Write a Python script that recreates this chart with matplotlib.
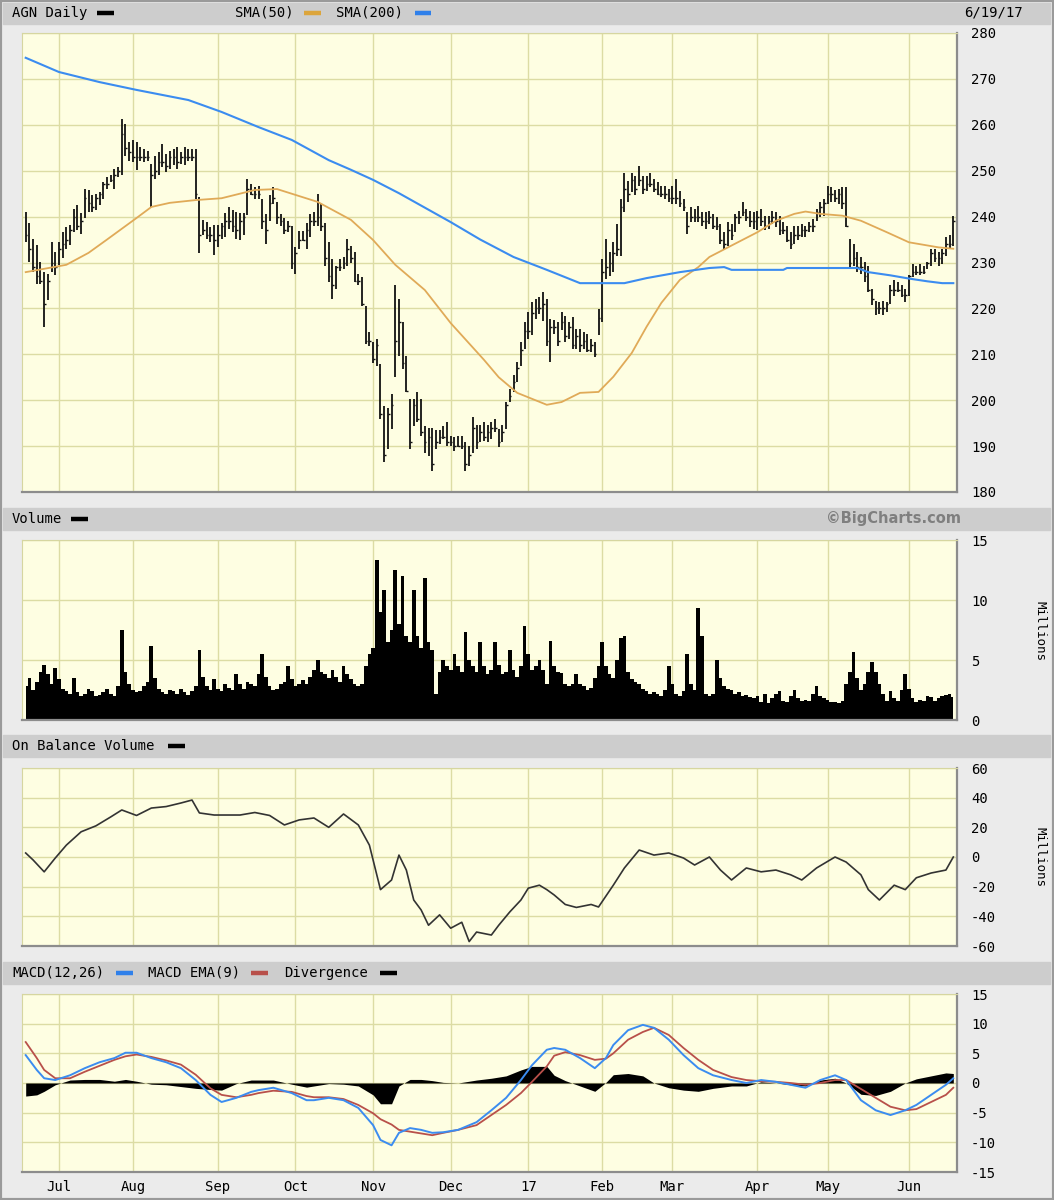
import numpy as np
import pandas as pd
import matplotlib
matplotlib.use('Agg')
import matplotlib.pyplot as plt
from matplotlib.lines import Line2D
from matplotlib.patches import Rectangle

# daily bars, one per trading day 6/20/16 .. 6/19/17
highs = [
    241.0, 238.5, 235.2, 233.8, 230.1, 228.0, 227.6, 234.5, 232.3, 234.5,
    236.7, 237.8, 238.1, 241.7, 242.5, 240.7, 246.1, 245.7, 244.6, 245.0,
    245.4, 247.5, 248.6, 249.0, 250.4, 250.8, 261.3, 260.2, 256.2, 256.6,
    256.2, 255.1, 254.8, 254.4, 251.5, 253.3, 254.1, 255.9, 253.7, 254.4,
    254.8, 255.1, 254.1, 255.1, 254.8, 254.8, 254.8, 244.3, 239.2, 238.8,
    237.8, 238.1, 238.1, 238.5, 240.7, 242.1, 241.4, 241.0, 240.7, 240.7,
    248.3, 247.2, 246.5,
    246.7, 243.8, 240.6, 244.6, 246.4, 243.1, 240.6, 239.8, 239.1, 238.0,
    233.3, 236.9, 236.9, 238.7, 240.6, 240.9, 244.9, 242.7, 238.7, 234.4,
    230.8, 229.3, 230.8, 231.1, 235.1, 233.7, 232.2, 227.5, 226.8, 220.6,
    214.8, 212.6, 213.3, 207.9, 198.8, 198.4, 201.3, 225.0, 222.0, 217.0,
    209.7, 200.3, 200.3, 201.7, 200.3, 194.4, 194.0, 194.0, 193.4, 193.4,
    194.4, 195.2, 192.3, 191.9, 192.3, 192.3, 190.8, 190.1, 196.3,
    194.5, 194.5, 195.2, 194.5, 195.2, 195.9, 193.8, 194.5, 199.6, 202.5,
    205.4, 208.3, 212.6, 217.0, 219.2, 221.3, 222.0, 222.4, 223.5, 222.0,
    217.7, 217.4, 217.0, 219.2, 218.4, 217.0, 218.1, 215.5, 215.5, 214.8,
    214.4, 213.4, 212.6, 219.9, 230.8, 235.1, 232.2, 234.4, 238.4, 243.8,
    249.6, 247.8, 249.6, 248.9, 251.1, 248.9, 248.9, 249.6, 248.2, 247.5,
    246.7, 246.7, 246.0, 246.7, 248.2, 245.6, 243.8, 240.9, 242.0, 241.7,
    242.4, 240.9, 240.9, 241.3, 240.6,
    239.9, 238.4, 236.6, 238.8, 238.4, 240.6, 241.3, 243.1, 241.7, 241.3,
    240.9, 241.3, 241.7, 240.2, 240.2, 241.3, 240.9, 240.2, 238.8, 238.0,
    236.6, 238.0, 238.0, 238.4, 238.0, 238.8, 239.5, 241.7, 243.1, 243.8,
    246.7, 246.4, 245.7, 246.0, 246.4, 246.4, 235.1, 234.1, 232.2, 231.2,
    230.1, 229.3, 224.3, 221.7, 221.4, 221.7, 221.4, 225.0, 226.1, 225.7,
    225.0, 224.3, 227.2, 229.7, 229.3, 229.7, 229.3, 230.1, 233.0, 233.0,
    232.2, 233.0, 235.5, 235.9, 240.2,
]
lows = [
    234.5, 230.1, 228.0, 225.4, 225.4, 216.0, 221.8, 228.0, 227.2, 229.4,
    230.9, 233.0, 233.8, 236.7, 237.0, 236.3, 239.6, 241.0, 241.0, 241.4,
    242.5, 243.9, 246.1, 247.5, 246.1, 248.6, 249.0, 253.3, 252.2, 251.9,
    250.1, 252.2, 251.9, 252.2, 242.1, 248.3, 249.0, 250.8, 249.7, 250.4,
    251.2, 250.4, 251.5, 251.2, 252.2, 252.2, 243.9, 232.0, 235.9, 235.2,
    234.5, 231.6, 233.4, 235.2, 235.6, 237.4, 236.7, 235.2, 234.9, 235.9,
    240.3, 244.6, 243.9,
    243.8, 237.3, 234.0, 239.1, 242.7, 238.4, 238.0, 236.2, 236.6, 228.6,
    227.5, 232.9, 234.7, 232.9, 235.5, 238.0, 238.0, 236.9, 229.3, 225.7,
    222.0, 224.2, 228.2, 228.6, 229.3, 230.0, 225.7, 225.0, 220.6, 212.2,
    211.9, 208.2, 207.5, 195.9, 186.5, 189.4, 193.7, 205.0, 209.7, 206.8,
    201.7, 189.4, 194.4, 195.2, 192.3, 188.6, 187.9, 184.6, 189.4, 190.4,
    191.5, 190.1, 190.1, 189.0, 189.7, 189.4, 184.6, 185.7, 188.6,
    189.4, 190.9, 191.2, 190.9, 191.6, 193.0, 189.8, 190.9, 193.8, 199.6,
    201.7, 203.9, 207.5, 211.2, 213.4, 214.1, 217.7, 218.8, 217.3, 211.9,
    208.3, 214.4, 211.9, 215.2, 212.6, 213.4, 211.2, 211.2, 210.4, 211.2,
    210.4, 210.4, 209.4, 214.1, 217.0, 226.4, 227.1, 227.9, 231.5, 231.5,
    240.9, 243.1, 245.3, 244.6, 246.7, 244.9, 245.6, 246.4, 245.3, 244.6,
    244.2, 243.8, 243.1, 242.7, 242.7, 242.0, 241.3, 236.2, 238.8, 238.8,
    238.8, 238.0, 237.3, 238.4, 237.3,
    237.0, 234.1, 233.0, 233.7, 234.8, 236.6, 238.4, 240.2, 239.1, 237.7,
    237.3, 237.0, 238.0, 237.0, 237.3, 238.4, 237.7, 235.9, 236.2, 234.4,
    233.0, 234.1, 234.8, 235.5, 235.5, 236.6, 236.6, 239.1, 239.9, 240.2,
    242.8, 243.1, 243.1, 242.8, 241.7, 237.7, 228.6, 229.3, 227.9, 227.5,
    225.7, 223.6, 220.7, 218.5, 218.8, 218.5, 219.2, 221.0, 222.8, 223.6,
    222.5, 221.4, 222.8, 226.8, 227.2, 227.2, 227.5, 228.6, 229.3, 230.1,
    229.3, 229.7, 231.5, 233.0, 233.7,
]
closes = [
    236, 233, 229, 227, 226, 221, 226, 230, 229, 233,
    234, 235, 237, 240, 238, 239, 244, 243, 242, 244,
    245, 247, 247, 248, 249, 250, 258, 255, 254, 253,
    253, 253, 253, 253, 249, 250, 252, 252, 251, 253,
    253, 252, 253, 253, 253, 253, 245, 236, 237, 236,
    236, 235, 236, 238, 239, 239, 238, 237, 239, 240,
    246, 245, 245,
    245, 239, 237, 243, 244, 240, 239, 237, 238, 230,
    232, 235, 235, 237, 239, 239, 240, 238, 231, 227,
    225, 229, 229, 230, 233, 231, 226, 226, 221, 213,
    213, 209, 212, 197, 188, 197, 199, 213, 217, 208,
    202, 191, 199, 196, 193, 191, 192, 186, 191, 192,
    192, 191, 191, 190, 190, 190, 186, 188, 194,
    191, 193, 192, 193, 194, 194, 191, 193, 199, 201,
    204, 207, 211, 215, 215, 219, 220, 220, 221, 213,
    216, 216, 213, 217, 214, 216, 212, 214, 212, 213,
    211, 212, 210, 218, 228, 229, 230, 232, 233, 242,
    246, 245, 248, 246, 248, 246, 247, 247, 246, 245,
    245, 245, 244, 244, 244, 243, 242, 238, 240, 240,
    240, 239, 239, 240, 238,
    238, 235, 234, 237, 236, 240, 240, 241, 240, 239,
    239, 240, 239, 238, 239, 240, 239, 237, 237, 235,
    234, 236, 236, 237, 237, 238, 238, 241, 242, 243,
    245, 245, 244, 245, 243, 238, 230, 231, 229, 229,
    227, 224, 222, 220, 220, 220, 221, 224, 224, 224,
    223, 223, 227, 228, 228, 228, 228, 230, 232, 231,
    231, 232, 234, 234, 239,
]
# volume, millions
volume = [
    2.8, 3.5, 2.5, 3.2, 4.0, 4.6, 3.8, 3.0, 4.3, 3.4,
    2.6, 2.4, 2.2, 3.5, 2.3, 2.0, 2.2, 2.6, 2.4, 2.0,
    2.1, 2.3, 2.6, 2.2, 2.0, 2.8, 7.5, 4.0, 3.0, 2.5,
    2.3, 2.4, 2.8, 3.2, 6.2, 3.5, 2.6, 2.3, 2.2, 2.5,
    2.4, 2.2, 2.6, 2.3, 2.1, 2.4, 2.8, 5.8, 3.6, 2.8,
    2.5, 3.4, 2.6, 2.4, 3.0, 2.7, 2.5, 3.8, 3.0, 2.6,
    3.2, 3.0, 2.8, 3.8, 5.5, 3.6, 2.8, 2.5, 2.6, 3.0,
    3.2, 4.5, 3.4, 2.8, 3.0, 3.3, 3.0, 3.6, 4.2, 5.0,
    4.0, 3.8, 3.5, 4.2, 3.6, 3.2, 4.5, 3.8, 3.4, 3.0,
    2.8, 3.0, 4.5, 5.5, 6.0, 13.3, 9.0, 10.8, 6.5, 7.5,
    12.5, 8.0, 12.0, 7.0, 6.5, 10.8, 7.0, 6.0, 11.8, 6.5,
    5.8, 2.2, 4.0, 5.0, 4.5, 4.2, 5.5, 4.5, 4.0, 7.3,
    5.0, 4.5, 4.0, 6.5, 4.5, 3.8, 4.2, 6.5, 4.6, 3.8,
    4.0, 5.8, 4.2, 3.6, 4.5, 7.8, 5.5, 4.2, 4.5, 5.0,
    4.2, 3.0, 6.6, 4.5, 4.0, 3.9, 3.0, 2.8, 3.0, 3.8,
    3.0, 2.8, 2.5, 2.7, 3.5, 4.5, 6.5, 4.5, 3.8, 3.5,
    5.0, 6.8, 7.0, 4.0, 3.4, 3.2, 3.0, 2.6, 2.4, 2.2,
    2.3, 2.2, 2.0, 2.5, 4.5, 3.0, 2.2, 2.0, 2.4, 5.5,
    3.0, 2.5, 9.3, 7.0, 2.2, 2.0, 2.2, 5.0, 3.5, 2.8,
    2.6, 2.5, 2.2, 2.3, 2.0, 2.1, 1.9, 1.8, 2.0, 1.5,
    2.2, 1.4, 1.8, 2.2, 2.4, 1.6, 1.5, 2.0, 2.5, 1.8,
    1.6, 1.7, 1.6, 2.2, 2.8, 2.0, 1.8, 1.7, 1.5, 1.5,
    1.4, 1.6, 3.0, 4.0, 5.7, 3.5, 2.5, 3.0, 4.0, 4.8,
    4.0, 3.0, 2.2, 1.6, 2.4, 1.8, 1.6, 2.5, 3.8, 2.6,
    1.8, 1.5, 1.7, 1.6, 2.0, 1.9, 1.6, 1.8, 2.0, 2.1,
    2.2, 1.9,
]

# moving averages, read at selected trading days
sma50_day = [0, 11, 17, 22, 30, 34, 39, 46, 53, 62, 68, 79, 88, 94, 100, 108, 115,
             124, 128, 133, 141, 145, 150, 155, 159, 164, 168, 172, 177, 182, 185,
             191, 198, 203, 208, 211, 215, 221, 226, 233, 239, 247, 251]
sma50_val = [227.9, 229.5, 232.1, 235.0, 239.7, 242.1, 243.0, 243.6, 244.0, 245.8,
             246.0, 243.2, 239.3, 234.9, 229.5, 224.0, 216.8, 208.8, 205.0, 201.6,
             199.0, 199.6, 201.6, 201.8, 205.1, 210.3, 216.0, 221.2, 226.2, 229.0,
             231.2, 233.7, 236.6, 239.1, 240.6, 241.1, 240.6, 240.2, 239.1, 236.6,
             234.4, 233.3, 233.0]
sma200_day = [0, 9, 20, 30, 44, 53, 63, 72, 82, 88, 94, 101, 115, 123, 132, 141, 150,
              162, 168, 177, 185, 189, 191, 205, 206, 225, 228, 234, 239, 244, 248, 251]
sma200_val = [274.6, 271.5, 269.3, 267.6, 265.4, 262.8, 259.5, 256.7, 252.3, 250.2,
              248.0, 245.1, 238.8, 235.0, 231.2, 228.4, 225.5, 225.5, 226.6, 227.9,
              228.8, 229.0, 228.4, 228.4, 228.8, 228.8, 227.9, 227.2, 226.5, 225.9,
              225.5, 225.5]

# on balance volume, millions
obv_day = [0, 2, 5, 8, 11, 15, 19, 23, 26, 30, 34, 38, 42, 45, 47, 51, 58, 62, 66, 70,
           74, 78, 82, 86, 90, 93, 94, 96, 99, 101, 103, 105, 107, 109, 112, 115, 118,
           120, 122, 126, 128, 131, 134, 136, 139, 141, 143, 146, 149, 153, 155, 159,
           162, 166, 170, 174, 178, 181, 185, 188, 191, 195, 199, 203, 207, 210, 214,
           219, 222, 226, 228, 231, 235, 238, 241, 245, 249, 251]
obv_val = [2.7, -2, -10, -0.7, 8, 17, 21, 27, 31.7, 28, 33, 34, 36.4, 38.4, 29.7, 28.3,
           28.3, 30, 28, 21.6, 25, 26.3, 20, 29, 21.6, 8, -2, -22, -15.5, 1.3, -8.8,
           -29, -35.7, -46, -39, -48, -44, -57, -50.6, -52.6, -46, -37, -29, -21, -19,
           -22, -25.6, -32, -34, -32, -33.7, -19, -7.4, 4.7, 1.3, 2.7, -0.7, -5.4, 0,
           -8.8, -15.5, -7.4, -10, -8.8, -12, -15.5, -7.4, 0, -3.4, -12, -22, -29, -19,
           -22, -14, -10.8, -8.8, 0]

# MACD(12,26) and its EMA(9)
macd_day = [0, 3, 5, 8, 12, 16, 20, 24, 27, 30, 34, 38, 42, 46, 50, 53, 57, 61, 63, 67,
            72, 76, 78, 82, 86, 90, 94, 96, 99, 101, 104, 107, 110, 113, 117, 122, 126,
            130, 134, 137, 141, 143, 146, 150, 154, 157, 159, 163, 167, 170, 174, 178,
            182, 186, 191, 195, 199, 203, 207, 211, 215, 219, 222, 226, 230, 234, 238,
            241, 245, 249, 251]
macd_val = [4.7, 2.2, 0.8, 0.5, 1.3, 2.5, 3.5, 4.2, 5.1, 5.1, 4.2, 3.5, 2.5, 0.5, -2.0,
            -3.2, -2.5, -1.5, -1.2, -0.8, -1.7, -2.9, -2.9, -2.5, -2.9, -4.2, -7.1, -9.6,
            -10.5, -8.4, -7.6, -7.9, -8.4, -8.3, -7.9, -6.6, -4.6, -2.5, 0.5, 3.0, 5.6,
            5.9, 5.6, 4.2, 2.5, 4.2, 6.4, 8.9, 9.8, 9.3, 7.3, 4.7, 2.5, 1.3, 0.5, 0.0,
            0.5, 0.2, -0.3, -0.8, 0.5, 1.3, 0.5, -2.9, -4.6, -5.4, -4.6, -3.7, -2.0,
            -0.3, 0.8]
signal_val = [6.9, 4.2, 2.2, 0.8, 0.8, 1.9, 2.9, 3.9, 4.5, 4.8, 4.4, 3.8, 3.1, 1.4, -0.9,
              -2.0, -2.4, -2.0, -1.7, -1.3, -1.5, -2.2, -2.4, -2.4, -2.7, -3.7, -5.1,
              -6.1, -7.0, -7.9, -8.2, -8.5, -8.8, -8.4, -7.9, -7.1, -5.4, -3.7, -1.7,
              0.2, 2.8, 4.6, 5.2, 4.7, 3.9, 4.1, 5.0, 7.3, 8.6, 9.3, 8.1, 5.9, 3.9, 2.2,
              1.0, 0.5, 0.3, 0.2, 0.0, -0.3, 0.0, 0.5, 0.5, -1.0, -2.5, -4.0, -4.6,
              -4.4, -3.2, -2.0, -0.8]

holidays = ['2016-07-04', '2016-09-05', '2016-11-24', '2016-12-26', '2017-01-02',
            '2017-01-16', '2017-02-20', '2017-04-14', '2017-05-29']
month_labels = ['Jul', 'Aug', 'Sep', 'Oct', 'Nov', 'Dec', '17', 'Feb', 'Mar', 'Apr', 'May', 'Jun']

days = pd.bdate_range('2016-06-20', '2017-06-19')
days = days[~days.isin(pd.to_datetime(holidays))]
month_pos = [i for i in range(1, len(days)) if days[i].month != days[i - 1].month]

plt.rcParams['axes.unicode_minus'] = False
MONO = 'DejaVu Sans Mono'

W, H = 1054, 1200
fig = plt.figure(figsize=(W / 100, H / 100), dpi=100, facecolor='#ebebeb')


def fx(px):
    return px / W


def fy(py):
    return 1 - py / H


def strip(top, bottom):
    fig.add_artist(Rectangle((fx(3), fy(bottom)), fx(1050) - fx(3), (bottom - top) / H,
                             transform=fig.transFigure, color='#cdcdcd', zorder=0))


def dash(x0, x1, y, color):
    fig.add_artist(Line2D([fx(x0), fx(x1)], [fy(y), fy(y)], color=color, lw=3.2,
                          solid_capstyle='butt', transform=fig.transFigure))


def label(x, y, s, **kw):
    fig.text(fx(x), fy(y), s, va='center', family=MONO, size=10, **kw)


def panel(top, bottom, ylim, yticks):
    ax = fig.add_axes([fx(22), fy(bottom), (957 - 22) / W, (bottom - top) / H])
    ax.set_facecolor('#fefee2')
    ax.set_xlim(-1, 252)
    ax.set_ylim(*ylim)
    ax.set_yticks(yticks)
    ax.set_xticks(month_pos)
    ax.grid(True, color='#dcdca4', lw=1.0)
    ax.set_axisbelow(True)
    ax.yaxis.tick_right()
    ax.tick_params(length=0, labelsize=10, pad=10)
    ax.tick_params(axis='x', labelbottom=False)
    for lab in ax.get_yticklabels():
        lab.set_family(MONO)
    for s in ['top', 'left']:
        ax.spines[s].set_color('#d6d6a0')
    for s in ['bottom', 'right']:
        ax.spines[s].set_color('#8c8c8c')
        ax.spines[s].set_linewidth(1.6)
    return ax


# outer frame
fig.add_artist(Rectangle((0, 0), 1, 1, transform=fig.transFigure, fill=False,
                         edgecolor='#9a9a9a', lw=3))

# headers
strip(3, 24)
label(12, 13, 'AGN Daily')
dash(97, 114, 13, 'black')
label(235, 13, 'SMA(50)')
dash(304, 321, 13, '#dca53c')
label(336, 13, 'SMA(200)')
dash(415, 431, 13, '#2f80ea')
label(1023, 13, '6/19/17', ha='right')

strip(508, 530)
label(12, 519, 'Volume')
dash(71, 88, 519, 'black')
fig.text(fx(961), fy(519), '\u00a9BigCharts.com', ha='right', va='center',
         size=10.5, weight='bold', color='#7f7f7f')

strip(735, 757)
label(12, 746, 'On Balance Volume')
dash(168, 185, 746, 'black')

strip(962, 984)
label(12, 973, 'MACD(12,26)')
dash(116, 133, 973, '#2f80ea')
label(148, 973, 'MACD EMA(9)')
dash(251, 268, 973, '#b8504a')
label(284, 973, 'Divergence')
dash(380, 397, 973, 'black')

fig.text(fx(1040), fy(631), 'Millions', rotation=270, ha='center', va='center',
         family=MONO, size=9)
fig.text(fx(1040), fy(857), 'Millions', rotation=270, ha='center', va='center',
         family=MONO, size=9)

# price panel
x = np.arange(len(highs))
ax1 = panel(33, 492, (180, 280), range(180, 281, 10))
ax1.vlines(x, lows, highs, color='#111111', lw=1.3)
ax1.hlines(closes, x, x + 0.45, color='#111111', lw=1.0)
ax1.plot(sma50_day, sma50_val, color='#e0aa58', lw=1.3)
ax1.plot(sma200_day, sma200_val, color='#3b8cf0', lw=1.5)

# volume panel
ax2 = panel(540, 720, (0, 15), [0, 5, 10, 15])
ax2.fill_between(np.arange(len(volume)), 0, volume, step='mid', color='black', lw=0)

# on balance volume panel
ax3 = panel(768, 946, (-60, 60), range(-60, 61, 20))
ax3.plot(obv_day, obv_val, color='#333333', lw=1.2)

# MACD panel
ax4 = panel(994, 1172, (-15, 15), range(-15, 16, 5))
div = np.array(macd_val) - np.array(signal_val)
ax4.fill_between(macd_day, 0, div, color='black', lw=0)
ax4.plot(macd_day, signal_val, color='#b8504a', lw=1.3)
ax4.plot(macd_day, macd_val, color='#3b8cf0', lw=1.4)
ax4.tick_params(axis='x', labelbottom=True, pad=6)
ax4.set_xticklabels(month_labels, family=MONO)

fig.savefig('out.png', dpi=100, facecolor=fig.get_facecolor())
